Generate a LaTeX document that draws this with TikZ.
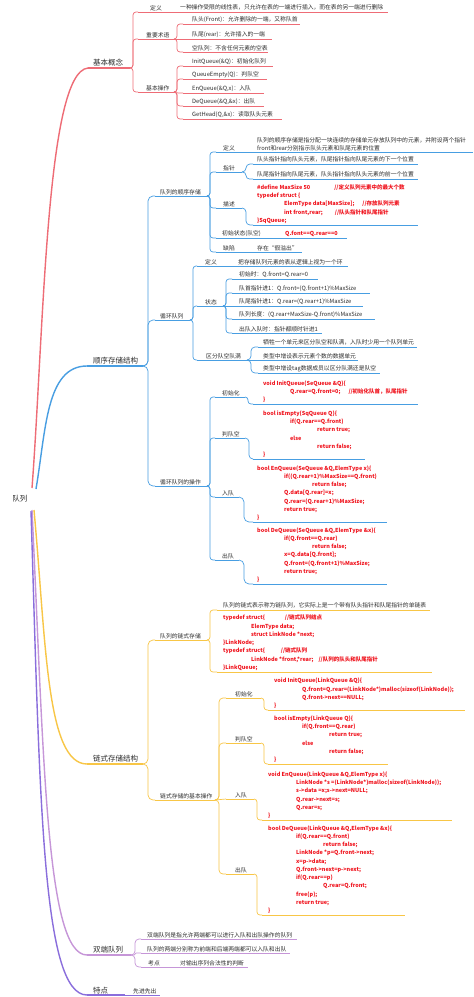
\documentclass[tikz,border=0pt]{standalone}
\usepackage{fontspec}
\setmainfont{Noto Sans CJK SC}
\usetikzlibrary{calc}
\definecolor{cR}{RGB}{238,108,118}
\definecolor{cB}{RGB}{72,158,226}
\definecolor{cO}{RGB}{248,198,70}
\definecolor{cP}{RGB}{198,150,216}
\definecolor{cV}{RGB}{138,110,220}
\definecolor{codered}{RGB}{240,20,30}
\definecolor{txt}{RGB}{45,45,45}
% name, line style, ux, uy, length, inset, node style, text
\newcommand\topic[8]{%
  \node[#7, anchor=south west, inner xsep=0pt, inner ysep=1.2pt] (#1) at (#3+#6,#4) {#8};
  \coordinate (#1-w) at (#3,#4);
  \coordinate (#1-e) at (#3+#5,#4);
  \draw[#2] (#1-w) -- (#1-e);}
% style, from, to, dx, rmax
\newcommand\conn[5]{%
  \draw[#1] let \p1=(#2-e), \p2=(#3-w),
    \n1={min(#5pt,abs(\y2-\y1)/2,#4pt,\x2-\x1-#4pt)} in
    [rounded corners=\n1] (#2-e) -- ++(#4pt,0pt) |- (#3-w);}
\newcommand\straight[3]{\draw[#1] (#2-e) -- (#3-w);}
\begin{document}
\begin{tikzpicture}[x=1pt,y=-1pt,
  t/.style={font=\fontsize{5.8}{8}\selectfont, text=txt, align=left},
  big/.style={font=\fontsize{7.5}{9}\selectfont, text=txt},
  code/.style={font=\bfseries\fontsize{5.5}{8.25}\selectfont, text=codered, align=left},
  lR/.style={draw=cR, line width=0.7pt}, LR/.style={draw=cR, line width=1.4pt},
  lB/.style={draw=cB, line width=0.7pt}, LB/.style={draw=cB, line width=1.4pt},
  lO/.style={draw=cO, line width=0.7pt}, LO/.style={draw=cO, line width=1.4pt},
  lP/.style={draw=cP, line width=0.7pt}, LP/.style={draw=cP, line width=1.4pt},
  lV/.style={draw=cV, line width=0.7pt}, LV/.style={draw=cV, line width=1.4pt}]
\useasboundingbox (0,0) rectangle (474,997);
\fill[white] (0,0) rectangle (474,997);

% root
\node[big, inner sep=0pt] (root) at (20,499) {队列};
\coordinate (rr) at (32,488);
\coordinate (rb) at (36,489);
\coordinate (ro) at (34,510);
\coordinate (rp) at (32,510);
\coordinate (rv) at (31,511);

% ---------------- red: 基本概念
\topic{bk}{LR}{88}{68}{42}{5}{big}{基本概念}
\topic{dy}{lR}{138}{12}{36}{12}{t}{定义}
\topic{dyt}{lR}{174}{12}{214}{6}{t}{一种操作受限的线性表，只允许在表的一端进行插入，而在表的另一端进行删除}
\topic{zy}{lR}{138}{39}{36}{8}{t}{重要术语}
\topic{zya}{lR}{183}{24}{117}{9}{t}{队头(Front)：允许删除的一端，又称队首}
\topic{zyb}{lR}{183}{39}{89}{9}{t}{队尾(rear)：允许插入的一端}
\topic{zyc}{lR}{183}{52}{85}{9}{t}{空队列：不含任何元素的空表}
\topic{cz}{lR}{138}{92}{36}{8}{t}{基本操作}
\topic{cza}{lR}{183}{66}{90}{9}{t}{InitQueue(\&Q)：初始化队列}
\topic{czb}{lR}{183}{79}{84}{9}{t}{QueueEmpty(Q)：判队空}
\topic{czc}{lR}{183}{93}{81}{9}{t}{EnQueue(\&Q,x)：入队}
\topic{czd}{lR}{183}{106}{81}{9}{t}{DeQueue(\&Q,\&x)：出队}
\topic{cze}{lR}{183}{119}{99}{9}{t}{GetHead(Q,\&x)：读取队头元素}

\draw[LR] (rr) .. controls (44,330) and (46,72) .. (bk-w);
\conn{lR}{bk}{dy}{3}{6}
\conn{lR}{bk}{zy}{3}{6}
\conn{lR}{bk}{cz}{3}{6}
\straight{lR}{dy}{dyt}
\conn{lR}{zy}{zya}{3}{6}
\straight{lR}{zy}{zyb}
\conn{lR}{zy}{zyc}{3}{6}
\conn{lR}{cz}{cza}{3}{6}
\conn{lR}{cz}{czb}{3}{6}
\conn{lR}{cz}{czc}{3}{6}
\conn{lR}{cz}{czd}{3}{6}
\conn{lR}{cz}{cze}{3}{6}

% ---------------- blue: 顺序存储结构
\topic{sx}{LB}{87}{366}{56}{6}{big}{顺序存储结构}
\topic{sq}{lB}{155}{196}{52}{5}{t}{队列的顺序存储}
\topic{sqa}{lB}{216}{152}{26}{7}{t}{定义}
\topic{sqat}{lB}{246}{152}{227}{11}{t}{队列的顺序存储是指分配一块连续的存储单元存放队列中的元素，并附设两个指针\\front和rear分别指示队头元素和队尾元素的位置}
\topic{sqb}{lB}{216}{172}{26}{7}{t}{指针}
\topic{sqba}{lB}{253}{164}{165}{4}{t}{队头指针指向队头元素，队尾指针指向队尾元素的下一个位置}
\topic{sqbb}{lB}{253}{179}{165}{4}{t}{队尾指针指向队尾元素，队头指针指向队头元素的前一个位置}
\topic{sqc}{lB}{216}{208}{26}{7}{t}{描述}
\topic{sqcc}{lB}{253}{225}{165}{4}{code}{\#define MaxSize 50\hspace{24pt}//定义队列元素中的最大个数\\
typedef struct \{\\
\hspace*{27pt}ElemType data[MaxSize];\hspace{8pt}//存放队列元素\\
\hspace*{27pt}int front,rear;\hspace{12pt}//队头指针和队尾指针\\
\}SqQueue;}
\topic{sqd}{lB}{216}{238}{54}{6}{t}{初始状态(队空)}
\topic{sqdc}{lB}{270}{238}{77}{15}{code}{Q.font==Q.rear==0}
\topic{sqe}{lB}{216}{252}{26}{7}{t}{缺陷}
\topic{sqet}{lB}{242}{252}{60}{15}{t}{存在“假溢出”}

\topic{xh}{lB}{155}{320}{35}{5}{t}{循环队列}
\topic{xha}{lB}{197}{266}{36}{8}{t}{定义}
\topic{xhat}{lB}{233}{266}{115}{5}{t}{把存储队列元素的表从逻辑上视为一个环}
\topic{xhb}{lB}{197}{306}{26}{8}{t}{状态}
\topic{xhba}{lB}{232}{279}{86}{7}{t}{初始时：Q.front=Q.rear=0}
\topic{xhbb}{lB}{232}{293}{138}{7}{t}{队首指针进1：Q.front=(Q.front+1)\%MaxSize}
\topic{xhbc}{lB}{232}{306}{131}{7}{t}{队尾指针进1：Q.rear=(Q.rear+1)\%MaxSize}
\topic{xhbd}{lB}{232}{319}{143}{7}{t}{队列长度：(Q.rear+MaxSize-Q.front)\%MaxSize}
\topic{xhbe}{lB}{232}{333}{90}{7}{t}{出队入队时：指针都顺时针进1}
\topic{xhc}{lB}{197}{360}{50}{9}{t}{区分队空队满}
\topic{xhca}{lB}{258}{347}{159}{5}{t}{牺牲一个单元来区分队空和队满，入队时少用一个队列单元}
\topic{xhcb}{lB}{258}{360}{100}{5}{t}{类型中增设表示元素个数的数据单元}
\topic{xhcc}{lB}{258}{373}{122}{5}{t}{类型中增设tag数据成员以区分队满还是队空}

\topic{xc}{lB}{155}{486}{52}{5}{t}{循环队列的操作}
\topic{xca}{lB}{215}{397}{30}{7}{t}{初始化}
\topic{xcac}{lB}{253}{404}{165}{10}{code}{void InitQueue(SeQueue \&Q)\{\\
\hspace*{27pt}Q.rear=Q.front=0;\hspace{8pt}//初始化队首，队尾指针\\
\}}
\topic{xcb}{lB}{215}{438}{30}{7}{t}{判队空}
\topic{xcbc}{lB}{253}{459}{112}{10}{code}{bool isEmpty(SqQueue Q)\{\\
\hspace*{27pt}if(Q.rear==Q.front)\\
\hspace*{54pt}return true;\\
\hspace*{27pt}else\\
\hspace*{54pt}return false;\\
\}}
\topic{xcc}{lB}{215}{497}{24}{7}{t}{入队}
\topic{xccc}{lB}{253}{522}{134}{4}{code}{bool EnQueue(SeQueue \&Q,ElemType x)\{\\
\hspace*{27pt}if((Q.rear+1)\%MaxSize==Q.front)\\
\hspace*{55pt}return false;\\
\hspace*{27pt}Q.data[Q.rear]=x;\\
\hspace*{27pt}Q.rear=(Q.rear+1)\%MaxSize;\\
\hspace*{27pt}return true;\\
\}}
\topic{xcd}{lB}{215}{560}{24}{7}{t}{出队}
\topic{xcdc}{lB}{253}{584}{134}{4}{code}{bool DeQueue(SeQueue \&Q,ElemType \&x)\{\\
\hspace*{27pt}if(Q.front==Q.rear)\\
\hspace*{55pt}return false;\\
\hspace*{27pt}x=Q.data[Q.front];\\
\hspace*{27pt}Q.front=(Q.front+1)\%MaxSize;\\
\hspace*{27pt}return true;\\
\}}

\draw[LB] (rb) .. controls (46,430) and (46,366) .. (sx-w);
\conn{lB}{sx}{sq}{5}{8}
\conn{lB}{sx}{xh}{5}{8}
\conn{lB}{sx}{xc}{5}{8}
\conn{lB}{sq}{sqa}{3}{6}
\conn{lB}{sq}{sqb}{3}{6}
\conn{lB}{sq}{sqc}{3}{6}
\conn{lB}{sq}{sqd}{3}{6}
\conn{lB}{sq}{sqe}{3}{6}
\straight{lB}{sqa}{sqat}
\conn{lB}{sqb}{sqba}{4}{6}
\conn{lB}{sqb}{sqbb}{4}{6}
\conn{lB}{sqc}{sqcc}{4}{6}
\straight{lB}{sqd}{sqdc}
\straight{lB}{sqe}{sqet}
\conn{lB}{xh}{xha}{3}{6}
\conn{lB}{xh}{xhb}{3}{6}
\conn{lB}{xh}{xhc}{3}{6}
\straight{lB}{xha}{xhat}
\conn{lB}{xhb}{xhba}{3}{6}
\conn{lB}{xhb}{xhbb}{3}{6}
\straight{lB}{xhb}{xhbc}
\conn{lB}{xhb}{xhbd}{3}{6}
\conn{lB}{xhb}{xhbe}{3}{6}
\conn{lB}{xhc}{xhca}{4}{6}
\straight{lB}{xhc}{xhcb}
\conn{lB}{xhc}{xhcc}{4}{6}
\conn{lB}{xc}{xca}{3}{6}
\conn{lB}{xc}{xcb}{3}{6}
\conn{lB}{xc}{xcc}{3}{6}
\conn{lB}{xc}{xcd}{3}{6}
\conn{lB}{xca}{xcac}{3}{6}
\conn{lB}{xcb}{xcbc}{4}{6}
\conn{lB}{xcc}{xccc}{5}{8}
\conn{lB}{xcd}{xcdc}{5}{8}

% ---------------- orange: 链式存储结构
\topic{lx}{LO}{87}{764}{56}{6}{big}{链式存储结构}
\topic{lq}{lO}{155}{640}{52}{5}{t}{队列的链式存储}
\topic{lqa}{lO}{217}{610}{213}{6}{t}{队列的链式表示称为链队列，它实际上是一个带有队头指针和队尾指针的单链表}
\topic{lqb}{lO}{217}{672}{215}{6}{code}{typedef struct\{\hspace{20pt}//链式队列结点\\
\hspace*{28pt}ElemType data;\\
\hspace*{28pt}struct LinkNode *next;\\
\}LinkNode;\\
typedef struct\{\hspace{16pt}//链式队列\\
\hspace*{28pt}LinkNode *front,*rear;\hspace{5pt}//队列的队头和队尾指针\\
\}LinkQueue;}
\topic{lc}{lO}{155}{800}{60}{5}{t}{链式存储的基本操作}
\topic{lca}{lO}{226}{698}{35}{9}{t}{初始化}
\topic{lcac}{lO}{268}{710}{197}{6}{code}{void InitQueue(LinkQueue \&Q)\{\\
\hspace*{28pt}Q.front=Q.rear=(LinkNode*)malloc(sizeof(LinkNode));\\
\hspace*{28pt}Q.front->next==NULL;\\
\}}
\topic{lcb}{lO}{226}{743}{35}{9}{t}{判队空}
\topic{lcbc}{lO}{268}{764}{120}{6}{code}{bool isEmpty(LinkQueue Q)\{\\
\hspace*{28pt}if(Q.front==Q.rear)\\
\hspace*{55pt}return true;\\
\hspace*{28pt}else\\
\hspace*{55pt}return false;\\
\}}
\topic{lcc}{lO}{226}{799}{28}{9}{t}{入队}
\topic{lccc}{lO}{262}{820}{190}{6}{code}{void EnQueue(LinkQueue \&Q,ElemType x)\{\\
\hspace*{28pt}LinkNode *s =(LinkNode*)malloc(sizeof(LinkNode));\\
\hspace*{28pt}s->data =x;s->next=NULL;\\
\hspace*{28pt}Q.rear->next=s;\\
\hspace*{28pt}Q.rear=s;\\
\}}
\topic{lcd}{lO}{226}{874}{28}{9}{t}{出队}
\topic{lcdc}{lO}{262}{915}{143}{6}{code}{bool DeQueue(LinkQueue \&Q,ElemType \&x)\{\\
\hspace*{28pt}if(Q.rear==Q.front)\\
\hspace*{55pt}return false;\\
\hspace*{28pt}LinkNode *p=Q.front->next;\\
\hspace*{28pt}x=p->data;\\
\hspace*{28pt}Q.front->next=p->next;\\
\hspace*{28pt}if(Q.rear==p)\\
\hspace*{55pt}Q.rear=Q.front;\\
\hspace*{28pt}free(p);\\
\hspace*{28pt}return true;\\
\}}

\draw[LO] (ro) .. controls (46,640) and (46,764) .. (lx-w);
\conn{lO}{lx}{lq}{5}{8}
\conn{lO}{lx}{lc}{5}{8}
\conn{lO}{lq}{lqa}{3}{6}
\conn{lO}{lq}{lqb}{3}{6}
\conn{lO}{lc}{lca}{4}{7}
\conn{lO}{lc}{lcb}{4}{7}
\straight{lO}{lc}{lcc}
\conn{lO}{lc}{lcd}{4}{7}
\conn{lO}{lca}{lcac}{3}{6}
\conn{lO}{lcb}{lcbc}{3}{6}
\conn{lO}{lcc}{lccc}{3}{6}
\conn{lO}{lcd}{lcdc}{3}{6}

% ---------------- purple: 双端队列, 特点
\topic{sd}{LP}{87}{955}{44}{6}{big}{双端队列}
\topic{sda}{lP}{141}{939}{156}{6}{t}{双端队列是指允许两端都可以进行入队和出队操作的队列}
\topic{sdb}{lP}{141}{953}{149}{6}{t}{队列的两端分别称为前端和后端两端都可以入队和出队}
\topic{sdc}{lP}{141}{967}{32}{7}{t}{考点}
\topic{sdct}{lP}{173}{967}{75}{7}{t}{对输出序列合法性的判断}
\topic{td}{LV}{87}{995}{38}{6}{big}{特点}
\topic{tdt}{lV}{125}{995}{35}{8}{t}{先进先出}

\draw[LP] (rp) .. controls (44,760) and (46,955) .. (sd-w);
\draw[LV] (rv) .. controls (40,800) and (42,995) .. (td-w);
\conn{lP}{sd}{sda}{4}{6}
\conn{lP}{sd}{sdb}{4}{6}
\conn{lP}{sd}{sdc}{4}{6}
\straight{lP}{sdc}{sdct}
\straight{lV}{td}{tdt}
\end{tikzpicture}
\end{document}
